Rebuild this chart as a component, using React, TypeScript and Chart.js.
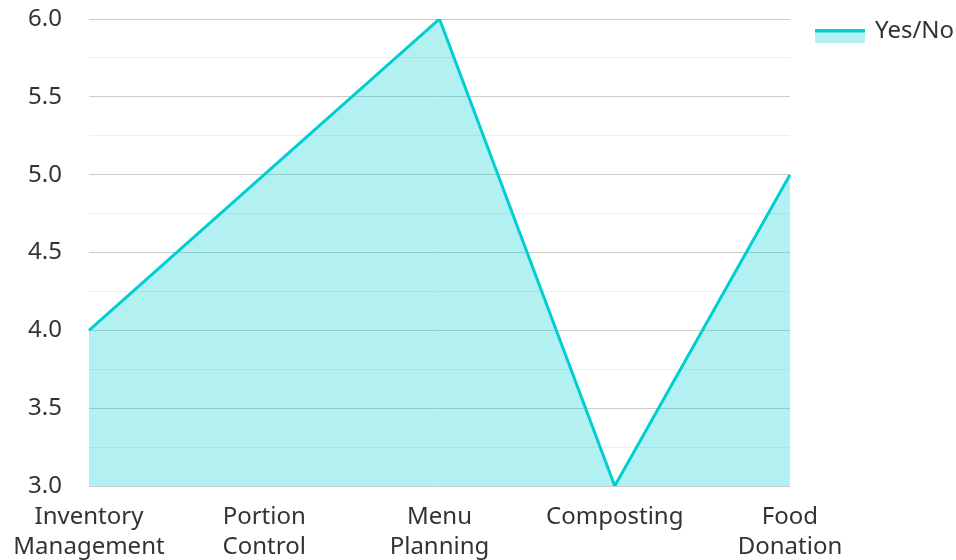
import React, { useEffect, useRef } from "react";
import { Chart, registerables } from "chart.js";

Chart.register(...registerables);

const categories: (string | string[])[] = [
  ["Inventory", "Management"],
  ["Portion", "Control"],
  ["Menu", "Planning"],
  "Composting",
  ["Food", "Donation"],
];
const seriesName = "Yes/No";
const values = [4, 5, 6, 3, 5];
const yMin = 3;
const yMax = 6;

const LINE = "#00CED1";
const FILL = "rgba(0,206,209,0.3)";
const FONT_FAMILY = "'Noto Sans', sans-serif";

const legendPlugin = {
  id: "customLegend",
  afterDraw(chart: any) {
    const ctx = chart.ctx;
    const ds = chart.data.datasets[0];
    const x = 815;
    const y = 29;
    ctx.save();
    ctx.fillStyle = FILL;
    ctx.fillRect(x, y, 50, 14);
    ctx.fillStyle = LINE;
    ctx.fillRect(x, y, 50, 3.5);
    ctx.fillStyle = "#333";
    ctx.font = `24px ${FONT_FAMILY}`;
    ctx.textBaseline = "middle";
    ctx.textAlign = "left";
    ctx.fillText(ds.label, 875, 31);
    ctx.restore();
  },
};

export default function App() {
  const ref = useRef<HTMLCanvasElement | null>(null);
  useEffect(() => {
    if (!ref.current) return;
    const font = { family: FONT_FAMILY, size: 24, lineHeight: 1.25 };
    const chart = new Chart(ref.current, {
      type: "line",
      data: {
        labels: categories,
        datasets: [
          {
            label: seriesName,
            data: values,
            borderColor: LINE,
            backgroundColor: FILL,
            borderWidth: 3,
            fill: "start",
            tension: 0,
            pointRadius: 0,
            pointHoverRadius: 0,
          },
        ],
      },
      options: {
        animation: false,
        responsive: false,
        maintainAspectRatio: false,
        layout: { padding: { top: 19, right: 166, left: 0, bottom: 0 } },
        plugins: {
          tooltip: { enabled: false },
          legend: { display: false },
        },
        scales: {
          x: {
            offset: false,
            grid: { display: false },
            border: { display: false },
            ticks: { font, color: "#333", maxRotation: 0, autoSkip: false, padding: 8 },
            afterFit: (s: any) => {
              s.height = 74;
            },
          },
          y: {
            min: yMin,
            max: yMax,
            border: { display: false },
            grid: {
              drawTicks: true,
              tickLength: 24,
              tickColor: "rgba(0,0,0,0)",
              color: (ctx: any) =>
                Math.abs(ctx.tick.value * 2 - Math.round(ctx.tick.value * 2)) < 1e-6 ? "#cccccc" : "#eeeeee",
              lineWidth: 1,
            },
            ticks: {
              stepSize: 0.25,
              font,
              color: "#333",
              padding: 3,
              callback: (v: any) =>
                Math.abs(v * 2 - Math.round(v * 2)) < 1e-6 ? Number(v).toFixed(1) : "",
            },
            afterFit: (s: any) => {
              s.width = 89;
            },
          },
        },
      },
      plugins: [legendPlugin],
    });
    return () => chart.destroy();
  }, []);
  return (
    <canvas
      ref={ref}
      width={956}
      height={560}
      style={{ display: "block", position: "absolute", left: 0, top: 0 }}
    />
  );
}
